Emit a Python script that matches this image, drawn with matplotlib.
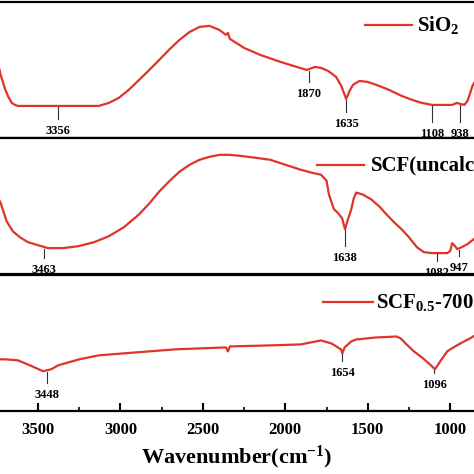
import matplotlib
matplotlib.use("Agg")
import matplotlib.pyplot as plt

plt.rcParams['font.family'] = ['Liberation Serif', 'DejaVu Serif']
plt.rcParams['font.weight'] = 'bold'
plt.rcParams['mathtext.fontset'] = 'custom'
plt.rcParams['mathtext.rm'] = 'Liberation Serif:bold'
plt.rcParams['mathtext.bf'] = 'Liberation Serif:bold'
plt.rcParams['mathtext.it'] = 'Liberation Serif:bold:italic'
plt.rcParams['mathtext.default'] = 'bf'

sio2_w = [3745,3735,3727,3715,3700,3680,3659,3640,3622,3439,3250,3132,3070,3010,2950,2887,2825,2765,2700,2642,2580,2520,2460,2400,2360,2348,2336,2250,2152,2029,1931,1870,1820,1784,1740,1692,1660,1631,1610,1590,1551,1500,1447,1370,1294,1230,1172,1108,988,960,938,914,895,880,865,841]
sio2_t = [404,405,399,393,385,377,371,369,368,368,368,368,371,376,384,394,404,414,425,434,442,447,448,444,439,441,435,426,419,412,407,404,407,406,403,397,388,375,383,389,393,392,389,384,378,374,371,369,369,371,370,369,373,380,388,395]
scf_w = [3745,3730,3714,3690,3653,3610,3561,3500,3439,3350,3255,3160,3071,2980,2887,2825,2765,2700,2642,2580,2520,2460,2397,2340,2275,2180,2091,2000,1907,1840,1784,1750,1735,1715,1704,1690,1674,1655,1638,1620,1600,1585,1570,1530,1478,1430,1386,1340,1294,1250,1202,1160,1110,1018,1000,988,970,957,930,896,841]
scf_t = [274,272,264,252,242,236,231,228,225,225,227,231,237,246,259,270,282,293,302,309,314,317,319,319,318,316,314,309,304,301,299,293,279,269,264,262,259,255,244,254,264,275,281,279,274,267,259,251,244,236,226,221,220,220,222,230,227,224,226,229,236]
cal_w = [3745,3700,3622,3550,3469,3420,3377,3250,3132,2980,2826,2670,2520,2360,2348,2336,2100,1907,1784,1720,1662,1654,1640,1600,1570,1450,1325,1300,1264,1220,1172,1130,1092,1060,1018,970,927,880,841]
cal_t = [114,114,113,108,102,104,108,114,118,120,122,124,125,126,122,127,128,129,133,130,124,120,126,132,134,136,137,135,129,122,116,110,104,112,122,127,131,135,139]

names = ["SiO$_2$", "SCF(uncalcined)", "SCF$_{0.5}$-700°C"]
peaks = [[(3356,349,3377),(1870,386,1858),(1635,356,1631),(1108,346,1108),(938,346,938)],
         [(3463,209,3463),(1638,221,1638),(1082,206,1082),(947,211,947)],
         [(3448,84,3448),(1654,106,1654),(1096,94,1096)]]
series = [(sio2_w,sio2_t),(scf_w,scf_t),(cal_w,cal_t)]
ylims = [(336,472),(199,336),(62,199)]
# (line start, line end, text x, y) in axes fraction
legpos = [(0.768,0.865,0.876,0.83),(0.667,0.766,0.779,0.80),(0.68,0.785,0.79,0.80)]
red = '#e0332a'

fig = plt.figure(figsize=(4.74,4.74), dpi=100)
tops = [0.996,0.709,0.420]
h = 0.287
for i in range(3):
    ax = fig.add_axes([-0.005, tops[i]-h, 1.01, h])
    w, t = series[i]
    ax.plot(w, t, color=red, lw=1.6)
    ax.set_xlim(3745, 841)
    ax.set_ylim(*ylims[i])
    ax.set_yticks([])
    for s in ax.spines.values():
        s.set_linewidth(1.6)
    lx0, lx1, tx, ly = legpos[i]
    ax.plot([lx0, lx1], [ly, ly], transform=ax.transAxes, color=red, lw=1.6)
    ax.text(tx, ly, names[i], transform=ax.transAxes, fontsize=15,
            fontweight='bold', va='center', ha='left')
    for lab, y, xw in peaks[i]:
        j = min(range(len(w)), key=lambda k: abs(w[k]-xw))
        ax.plot([xw, xw], [t[j]-1, y+6], color='#333333', lw=0.8)
        ax.text(xw, y, str(lab), fontsize=9, fontweight='bold', ha='center', va='top')
    if i < 2:
        ax.set_xticks([])
    else:
        ax.set_xticks([3500,3000,2500,2000,1500,1000])
        ax.set_xticks([3250,2750,2250,1750,1250], minor=True)
        ax.tick_params(axis='x', which='major', direction='in', length=6, width=1.5, labelsize=12, pad=8)
        ax.tick_params(axis='x', which='minor', direction='in', length=3, width=1.2)
        for lbl in ax.get_xticklabels():
            lbl.set_fontweight('bold')
        ax.set_xlabel("Wavenumber(cm$^{-1}$)", fontsize=16, fontweight='bold', labelpad=4)
fig.savefig("out.png", dpi=100)
